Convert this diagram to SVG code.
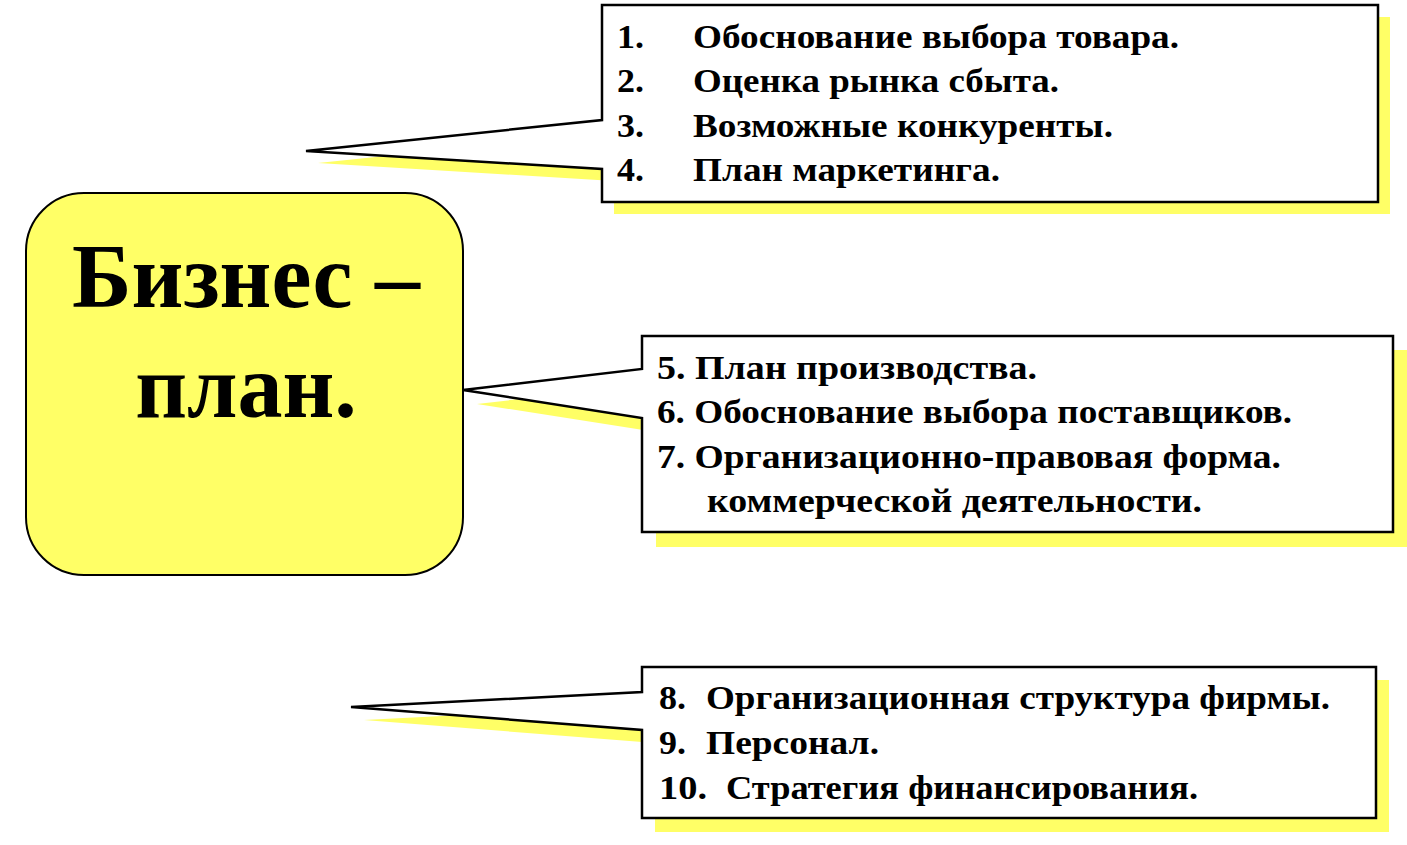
<svg xmlns="http://www.w3.org/2000/svg" width="1407" height="845" viewBox="0 0 1407 845">
<style>
.sh{fill:#FFFF66;stroke:none}
.co{fill:#FFFFFF;stroke:#000000;stroke-width:2.5;stroke-linejoin:miter}
.t{font-family:"Liberation Serif","Times New Roman",serif;font-weight:bold;font-size:33px;fill:#000000}
.big{font-family:"Liberation Serif","Times New Roman",serif;font-weight:bold;font-size:90px;fill:#000000;text-anchor:middle}
</style>
<rect width="1407" height="845" fill="#FFFFFF"/>
<g id="connectors">
<polygon class="sh" points="614,17 1390,17 1390,214 614,214 614,181 318,163 614,132"/>
<polygon class="sh" points="656,350 1407,350 1407,547 656,547 656,432 477,404 656,383"/>
<polygon class="sh" points="655,680 1389,680 1389,832 655,832 655,743 364,720 655,705"/>
</g>
<g id="callout1">
<polygon class="co" points="602,5 1378,5 1378,202 602,202 602,169 306,151 602,120"/>
<text class="t" x="617" y="48" textLength="27" lengthAdjust="spacingAndGlyphs">1.</text><text class="t" x="693" y="48" textLength="486" lengthAdjust="spacingAndGlyphs">Обоснование выбора товара.</text>
<text class="t" x="617" y="92" textLength="27" lengthAdjust="spacingAndGlyphs">2.</text><text class="t" x="693" y="92" textLength="366" lengthAdjust="spacingAndGlyphs">Оценка рынка сбыта.</text>
<text class="t" x="617" y="137" textLength="27" lengthAdjust="spacingAndGlyphs">3.</text><text class="t" x="693" y="137" textLength="420" lengthAdjust="spacingAndGlyphs">Возможные конкуренты.</text>
<text class="t" x="617" y="181" textLength="27" lengthAdjust="spacingAndGlyphs">4.</text><text class="t" x="693" y="181" textLength="307" lengthAdjust="spacingAndGlyphs">План маркетинга.</text>
</g>
<g id="callout2">
<polygon class="co" points="642,336 1393,336 1393,532 642,532 642,418 463,390 642,369"/>
<text class="t" x="657" y="379" textLength="380" lengthAdjust="spacingAndGlyphs">5. План производства.</text>
<text class="t" x="657" y="423" textLength="635" lengthAdjust="spacingAndGlyphs">6. Обоснование выбора поставщиков.</text>
<text class="t" x="657" y="468" textLength="624" lengthAdjust="spacingAndGlyphs">7. Организационно-правовая форма.</text>
<text class="t" x="707" y="512" textLength="495" lengthAdjust="spacingAndGlyphs">коммерческой деятельности.</text>
</g>
<g id="callout3">
<polygon class="co" points="642,667 1376,667 1376,818 642,818 642,730 351,707 642,692"/>
<text class="t" x="659" y="709" textLength="27" lengthAdjust="spacingAndGlyphs">8.</text><text class="t" x="706" y="709" textLength="624" lengthAdjust="spacingAndGlyphs">Организационная структура фирмы.</text>
<text class="t" x="659" y="754" textLength="27" lengthAdjust="spacingAndGlyphs">9.</text><text class="t" x="706" y="754" textLength="173" lengthAdjust="spacingAndGlyphs">Персонал.</text>
<text class="t" x="659" y="799" textLength="48" lengthAdjust="spacingAndGlyphs">10.</text><text class="t" x="726" y="799" textLength="472" lengthAdjust="spacingAndGlyphs">Стратегия финансирования.</text>
</g>
<g id="main">
<rect x="26" y="193" width="437" height="382" rx="58" ry="58" fill="#FFFF66" stroke="#000000" stroke-width="2"/>
<text class="big" x="246" y="307">Бизнес –</text>
<text class="big" x="246" y="417">план.</text>
</g>
</svg>
